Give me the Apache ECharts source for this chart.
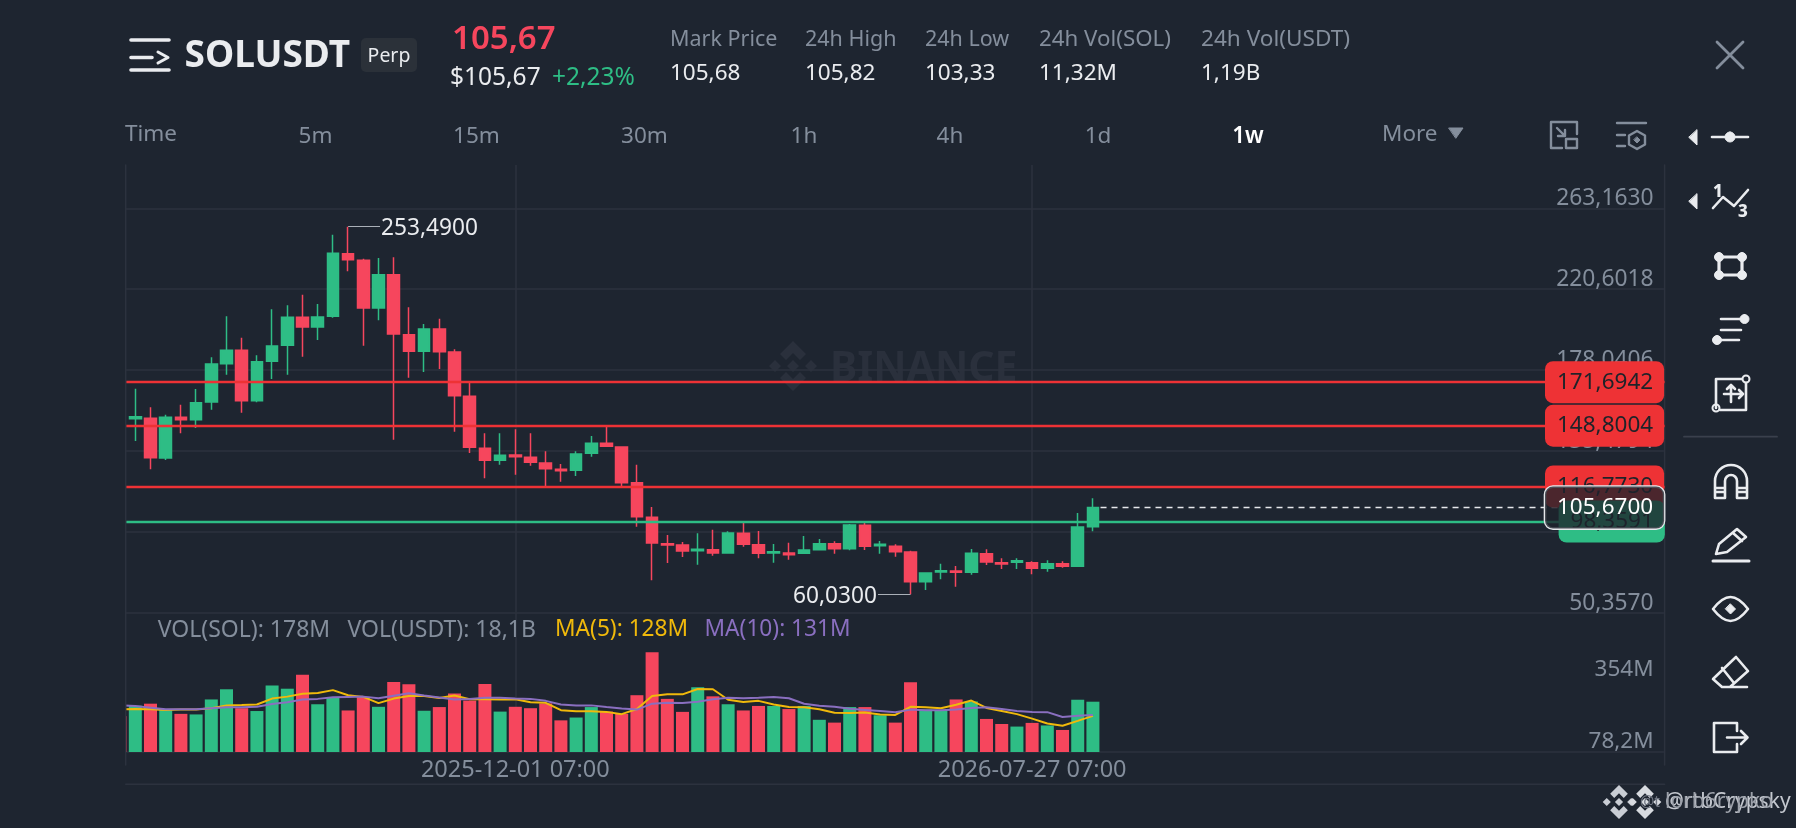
<!DOCTYPE html>
<html>
<head>
<meta charset="utf-8">
<style>html,body{margin:0;padding:0;background:#1E2530;overflow:hidden}#c{width:1796px;height:828px}</style>
<script src="https://cdn.jsdelivr.net/npm/echarts@6/dist/echarts.min.js"></script>
</head>
<body>
<div id="c"></div>
<script>
// weekly candles as [open, close, low, high]; index 26 = 2025-12-01, index 60 = 2026-07-27
const candles = [
[157.37,152.46,150.88,159.65],[152.46,153.51,140.71,168.24],[152.63,131.94,125.80,158.42],[131.76,153.16,130.71,154.56],
[153.16,151.93,144.74,159.82],[151.93,160.88,147.55,168.07],[161.23,181.23,157.19,184.74],[181.41,188.43,175.62,206.32],
[188.43,161.93,155.61,195.09],[161.93,182.46,161.05,185.80],[182.64,190.71,173.34,210.01],[191.06,205.79,175.62,212.11],
[205.79,200.70,185.09,217.73],[200.70,205.97,193.86,212.81],[206.32,239.48,205.62,249.30],[239.30,236.15,229.99,253.49],
[235.79,210.71,190.88,236.67],[210.71,228.25,204.21,237.02],[228.25,197.02,141.41,237.37],[196.67,187.90,174.04,211.06],
[187.90,199.65,177.02,202.28],[199.65,187.72,178.60,205.09],[187.55,164.56,145.62,188.95],[164.21,137.37,134.39,171.40],
[136.85,130.53,121.05,144.74],[130.53,133.16,128.25,144.74],[133.34,132.46,122.99,146.85],[132.11,129.48,127.72,144.74],
[129.13,126.15,116.67,135.27],[125.80,125.10,119.30,128.60],[125.27,133.87,122.29,135.27],[134.22,139.48,132.46,143.34],
[139.48,137.90,137.72,148.60],[137.55,118.78,117.02,137.72],[118.78,100.88,95.62,128.25],[100.53,87.02,67.37,105.97],
[86.67,85.97,76.49,91.24],[85.97,82.81,79.65,87.55],[82.99,83.69,75.61,92.11],[83.51,81.76,80.35,94.04],
[81.76,92.29,81.58,93.17],[92.11,86.32,85.09,97.55],[86.14,81.58,78.95,93.34],[81.76,82.46,76.67,86.50],
[81.76,80.88,78.25,87.20],[81.58,83.34,81.41,90.71],[83.51,86.67,83.34,89.13],[86.67,84.04,81.41,87.90],
[84.04,96.50,83.16,97.02],[96.32,85.27,83.34,98.07],[85.62,86.32,81.41,88.07],[85.27,82.46,79.83,86.32],
[82.28,66.67,60.03,82.99],[66.67,71.23,62.28,71.23],[71.76,72.46,67.90,76.14],[72.28,71.58,64.04,74.91],
[71.58,81.58,70.35,83.86],[81.41,77.02,75.44,83.69],[76.67,75.97,73.34,78.95],[76.84,77.72,73.34,78.95],
[76.67,73.69,70.53,77.37],[73.69,76.14,71.93,77.90],[76.14,74.74,74.04,77.37],[74.74,95.44,74.56,102.81],
[95.62,105.67,93.17,110.53]
];
// volume in millions of SOL
const volumes = [127,164,171,149,135,133,186,222,155,145,235,224,273,169,194,147,194,160,248,240,146,159,207,182,241,143,160,155,172,112,122,159,143,135,201,353,188,142,229,197,169,147,163,163,152,163,114,104,159,159,130,104,247,150,146,186,179,117,99,90,103,94,78,185,178];
const ma5 = [151,152,151,149,150,150,155,165,166,168,189,196,206,209,219,201,195,173,189,198,198,191,200,187,187,186,187,176,174,148,144,144,142,134,152,198,204,204,223,222,185,177,181,168,159,158,151,139,138,140,133,131,160,158,155,167,182,156,145,134,118,101,93,110,128];
const ma10 = [165,163,157,151,151,151,155,158,158,160,170,176,186,188,194,195,196,190,199,208,200,193,186,188,192,192,189,188,181,168,165,165,159,154,150,171,174,173,178,187,192,190,192,195,190,171,164,160,153,149,145,141,150,148,148,150,156,158,152,145,142,141,124,128,131];
const priceTicks = [50.357,92.9182,135.4794,178.0406,220.6018,263.163];
const volTicks = [78.2,354];
const volTickLabels = ['78,2M','354M'];
const timeTickIndex = [26,60];
const timeTickLabels = ['2025-12-01 07:00','2026-07-27 07:00'];
const levels = [
  {v:171.6942,fill:'#EE3235',line:'#EE3235',txt:'171,6942'},
  {v:148.8004,fill:'#EE3235',line:'#EE3235',txt:'148,8004'},
  {v:116.7730,fill:'#EE3235',line:'#EE3235',txt:'116,7730'},
  {v:98.3591,fill:'#2EBD85',line:'#2EBD85',txt:'98,3591'}
];
const lastPrice = 105.67, lastLabel = '105,6700';
const highIdx = 15, highVal = 253.49, highLabel = '253,4900';
const lowIdx = 52, lowVal = 60.03, lowLabel = '60,0300';

const FONT = '"Noto Sans", sans-serif';
const BG='#1E2530', GRID='#2C323E', GREY='#848E9C', WHITE='#EAECEF', RED='#F6465D', GREEN='#2EBD85';
const INK='#EAECEF';

let shapeId=0;
function shapeType(d){
  const name='icon'+(shapeId++);
  echarts.graphic.registerShape(name,echarts.graphic.extendPath(d,{}));
  return name;
}
function t(text,x,y,size,fill,align,weight,z){
  return {type:'text',x:x,y:y+2,z:z||100,silent:true,style:{text:text,fill:fill,font:(weight||400)+' '+size+'px '+FONT,textAlign:align||'left',textVerticalAlign:'middle'}};
}
function p(d,opt){
  opt=opt||{};
  return {type:shapeType(d),z:opt.z||100,silent:true,shape:{},style:{fill:opt.fill||'none',stroke:opt.stroke===undefined?INK:opt.stroke,lineWidth:opt.lw===undefined?2.6:opt.lw,lineCap:opt.cap||'round',lineJoin:'round'}};
}
const LOGO='M50 0L76 26L64 38L50 24L36 38L24 26ZM50 100L76 74L64 62L50 76L36 62L24 74ZM50 38L62 50L50 62L38 50ZM14 38L26 50L14 62L2 50ZM86 38L98 50L86 62L74 50Z';
const logoType=shapeType(LOGO);
function logo(x,y,s,fill,z){
  return {type:logoType,x:x-s/2,y:y-s/2,scaleX:s/100,scaleY:s/100,z:z,silent:true,shape:{},style:{fill:fill}};
}
const graphics = [
  // frame
  p('M125.7 165V765',{stroke:GRID,lw:1.5,z:60}),p('M1664.6 165V765',{stroke:GRID,lw:1.5,z:1}),p('M125.7 784.3H1664.6',{stroke:GRID,lw:1.5,z:1}),
  // the pane starts at this edge: keep the clipped first week and the average lines inside it
  {type:'rect',z:50,silent:true,shape:{x:95,y:625,width:30,height:130},style:{fill:BG}},
  // watermark
  logo(793,366,50,'#2A303C',0),
  {type:'text',x:830,y:369,z:0,silent:true,style:{text:'BINANCE',fill:'#2A303C',font:'700 41px '+FONT,textVerticalAlign:'middle'}},
  // header
  p('M131 40H169M131 70H169M131 57.5H152',{lw:3.6}),p('M158 52L168 57.5L158 63',{lw:3}),
  t('SOLUSDT',184.5,54,37,WHITE,'left',700),
  {type:'rect',z:99,silent:true,shape:{x:361,y:38,width:56,height:34,r:5},style:{fill:'#2B3139'}},
  t('Perp',389,54,19.5,WHITE,'center'),
  t('105,67',452,38,33,RED,'left',600),
  t('$105,67',450,76.5,24.5,WHITE),
  t('+2,23%',552,76.5,24.5,GREEN),
  t('Mark Price',670,38,21.5,GREY),t('105,68',670,71.5,22.5,WHITE),
  t('24h High',805,38,21.5,GREY),t('105,82',805,71.5,22.5,WHITE),
  t('24h Low',925,38,21.5,GREY),t('103,33',925,71.5,22.5,WHITE),
  t('24h Vol(SOL)',1039,38,22.3,GREY),t('11,32M',1039,71.5,22.5,WHITE),
  t('24h Vol(USDT)',1201,38,22.6,GREY),t('1,19B',1201,71.5,22.5,WHITE),
  p('M1717 42L1743 68M1743 42L1717 68',{stroke:GREY,lw:2.8}),
  // interval tabs
  t('Time',125,132.5,22.5,GREY),t('5m',315.5,135,22.5,GREY,'center'),t('15m',476.5,135,22.5,GREY,'center'),
  t('30m',644.5,135,22.5,GREY,'center'),t('1h',804,135,22.5,GREY,'center'),t('4h',950,135,22.5,GREY,'center'),
  t('1d',1098,135,22.5,GREY,'center'),t('1w',1248,135,22.5,'#FFFFFF','center',600),t('More',1382,133,22.5,GREY),
  p('M1449 128H1463L1456 138Z',{fill:GREY,stroke:GREY,lw:1}),
  p('M1577 134V122H1551V148H1562M1557 128L1565 136M1565 130V136H1558M1566 139H1577V148H1566Z',{stroke:GREY,lw:2.4}),
  p('M1617 123H1646M1617 135H1625M1617 146H1625M1637 131L1645 135.5V144.5L1637 149L1629 144.5V135.5Z',{stroke:GREY,lw:2.4}),
  p('M1637 137L1640 140L1637 143L1634 140Z',{fill:GREY,stroke:GREY,lw:1}),
  // volume legend
  t('VOL(SOL): 178M',157.7,628,23,GREY),t('VOL(USDT): 18,1B',347.5,628,23,GREY),
  t('MA(5): 128M',555,628,22.7,'#F0B90B'),t('MA(10): 131M',704.5,628,22.7,'#8A6FC0'),
  // right toolbar
  p('M1697 130V145L1689 137.5Z',{fill:INK,lw:1}),p('M1712 137H1748'),p('M1730 132a5 5 0 1 0 .01 0Z',{fill:INK,lw:1}),
  p('M1697 194V209L1689 201.5Z',{fill:INK,lw:1}),
  p('M1713 208L1723 197L1734 206L1748 190'),t('1',1718,190,17,INK,'center',800),t('3',1743,210,17,INK,'center',800),
  p('M1719 257H1742V275H1719Z',{lw:3.2}),
  p('M1719 252.5a4.5 4.5 0 1 0 .01 0ZM1742 252.5a4.5 4.5 0 1 0 .01 0ZM1719 270.5a4.5 4.5 0 1 0 .01 0ZM1742 270.5a4.5 4.5 0 1 0 .01 0Z',{fill:INK,lw:1}),
  p('M1721 319H1741M1721 330H1741M1717 340H1739'),
  p('M1744.5 314.5a4.5 4.5 0 1 0 .01 0ZM1717 335.5a4.5 4.5 0 1 0 .01 0Z',{fill:INK,lw:1}),
  p('M1742 379H1716V408M1720 410H1746V383',{}),
  p('M1746 375.5a3.5 3.5 0 1 0 .01 0ZM1716 404.5a3.5 3.5 0 1 0 .01 0Z',{lw:2}),
  p('M1731 385V402M1724 394H1743M1727 389L1731 385L1735 389M1739 390L1743 394L1739 398'),
  p('M1684 436.7H1777',{stroke:'#3A404C',lw:1.8}),
  p('M1715 488V481A16 16 0 0 1 1747 481V488M1725 488V481A6 6 0 0 1 1737 481V488M1715 488H1725V498H1715ZM1737 488H1747V498H1737ZM1715 492H1725M1737 492H1747'),
  p('M1713 561H1749',{lw:3}),p('M1716 554L1719 544L1737 529L1746 537L1727 552ZM1733 533L1742 541'),
  p('M1713 609C1720 600 1725 597 1730.5 597C1736 597 1741 600 1748 609C1741 618 1736 621 1730.5 621C1725 621 1720 618 1713 609Z'),
  p('M1730.5 604L1735.5 609L1730.5 614L1725.5 609Z',{fill:INK,lw:1}),
  p('M1736 657L1748 671L1730 687H1722L1713 679ZM1722 668L1734 683M1730 687H1747'),
  p('M1737 731V723H1714V752H1737V744M1727 737.5H1747M1741 731L1747.5 737.5L1741 744'),
  // corner credit (two overlapping watermarks in the source)
  logo(1619,802,34,'#C9CDD4',100),logo(1645,802,34,'#D8DBE0',100),
  t('@t',1650,800,16,'#6E7480','center',400),
  t('@rtbCrypsky',1665,800,21,'#C4C8CF'),t('lorb6rypko',1665,800,21,'#9CA1AA')
];

function priceLabel(l,w){
  return {show:true,position:'end',distance:-w,formatter:l.txt,color:'#1E2329',fontFamily:FONT,fontSize:22.5,
    backgroundColor:l.fill,borderRadius:8,padding:[11,11,9,12],lineHeight:22};
}
const markData = levels.map(function(l){
  return {yAxis:l.v,lineStyle:{color:l.line,width:2.4,type:'solid'},label:priceLabel(l,l.v<100?106:119.6)};
});
markData.push([
  {coord:[64.5,lastPrice],lineStyle:{color:'#E6E8EB',width:1.4,type:[6,5]},
   label:{show:true,position:'end',distance:-119.6,formatter:lastLabel,color:'#FFFFFF',fontFamily:FONT,fontSize:22.5,
     backgroundColor:'rgba(30,35,44,0.78)',borderColor:'#E6E8EB',borderWidth:1.3,borderRadius:8,padding:[11,11,9,12],lineHeight:22}},
  {coord:[101.61,lastPrice]}
]);
markData.push([
  {coord:[highIdx,highVal],lineStyle:{color:'#AAB0B8',width:1.2,type:'solid'},
   label:{show:true,position:'end',distance:1,formatter:highLabel,color:WHITE,fontFamily:FONT,fontSize:22.7,verticalAlign:'top',lineHeight:4}},
  {coord:[17.1,highVal]}
]);
markData.push([
  {coord:[lowIdx,lowVal],lineStyle:{color:'#AAB0B8',width:1.2,type:'solid'},
   label:{show:true,position:'end',distance:1,formatter:lowLabel,color:WHITE,fontFamily:FONT,fontSize:22.7,verticalAlign:'top',lineHeight:4}},
  {coord:[49.86,lowVal]}
]);

const sharedX = {type:'value',min:0.368,max:101.61,axisLabel:{show:false},axisTick:{show:false,customValues:timeTickIndex},
  axisLine:{show:false},splitLine:{show:true,lineStyle:{color:GRID,width:1.5}}};
const option = {
  animation:false,
  backgroundColor:BG,
  grid:[
    {left:125.7,right:131.4,top:165,height:447.7},
    {left:125.7,right:131.4,top:612.7,height:139.3}
  ],
  xAxis:[
    Object.assign({},sharedX,{gridIndex:0}),
    Object.assign({},sharedX,{gridIndex:1,
      axisLine:{show:true,lineStyle:{color:GRID,width:1.5}},
      axisLabel:{show:true,customValues:timeTickIndex,color:GREY,fontFamily:FONT,fontSize:23.5,margin:6,
        formatter:function(v){return timeTickLabels[timeTickIndex.indexOf(v)];}}})
  ],
  yAxis:[
    {type:'value',gridIndex:0,position:'right',min:50.357,max:285.95,
     axisLine:{show:false},axisTick:{show:false,customValues:priceTicks},
     axisLabel:{show:true,inside:true,customValues:priceTicks,color:GREY,fontFamily:FONT,fontSize:22.8,lineHeight:19,margin:11,verticalAlign:'bottom',
       formatter:function(v){return v.toFixed(4).replace('.',',');}},
     splitLine:{show:true,lineStyle:{color:GRID,width:1.5}}},
    {type:'value',gridIndex:1,min:0,max:493,show:false},
    {type:'value',gridIndex:1,position:'right',min:78.2,max:611.7,
     axisLine:{show:false},axisTick:{show:false,customValues:volTicks},splitLine:{show:false},
     axisLabel:{show:true,inside:true,customValues:volTicks,color:GREY,fontFamily:FONT,fontSize:22.5,lineHeight:21,margin:11,verticalAlign:'bottom',
       formatter:function(v){return volTickLabels[volTicks.indexOf(v)];}}}
  ],
  series:[
    {type:'candlestick',xAxisIndex:0,yAxisIndex:0,barWidth:12,clip:true,
     encode:{x:0,y:[1,2,3,4]},
     data:candles.map(function(c,i){return [i,c[0],c[1],c[2],c[3]];}),
     itemStyle:{color:GREEN,color0:RED,borderColor:GREEN,borderColor0:RED,borderWidth:1.5},
     markLine:{silent:true,symbol:'none',animation:false,data:markData}},
    {type:'bar',xAxisIndex:1,yAxisIndex:1,barWidth:13,clip:true,
     data:volumes.map(function(v,i){return {value:[i,v],itemStyle:{color:candles[i][1]>=candles[i][0]?GREEN:RED}};})},
    {type:'line',xAxisIndex:1,yAxisIndex:1,symbol:'none',clip:true,lineStyle:{color:'#F0B90B',width:2},data:ma5.map(function(v,i){return [i,v];})},
    {type:'line',xAxisIndex:1,yAxisIndex:1,symbol:'none',clip:true,lineStyle:{color:'#8A6FC0',width:2},data:ma10.map(function(v,i){return [i,v];})}
  ],
  graphic:{elements:graphics}
};
const chart = echarts.init(document.getElementById('c'),null,{width:1796,height:828});
chart.setOption(option);
</script>
</body>
</html>
